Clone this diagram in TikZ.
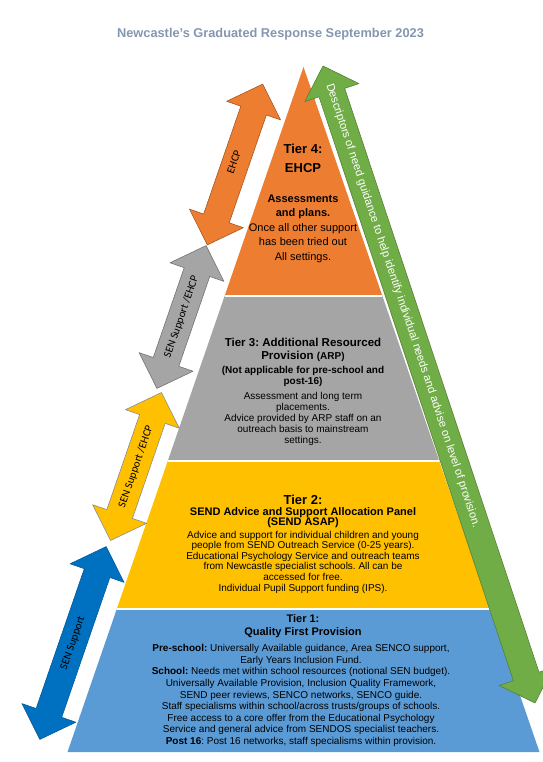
\documentclass[tikz,border=0pt]{standalone}
\usepackage{fontspec}
\setmainfont{Liberation Sans}
\newfontfamily\arrowfont{Carlito}
\usetikzlibrary{calc}
\frenchspacing

\definecolor{tierorange}{HTML}{ED7D31}
\definecolor{tiergray}{HTML}{A5A5A5}
\definecolor{tieryellow}{HTML}{FFC000}
\definecolor{tierblue}{HTML}{5B9BD5}
\definecolor{arrowblue}{HTML}{0070C0}
\definecolor{arrowgreen}{HTML}{70AD47}
\definecolor{titlegray}{HTML}{8497B0}

\tikzset{
  tiertext/.style={align=center,inner sep=0pt,font=\fontsize{10}{11}\selectfont},
  arrowlabel/.style={inner sep=0pt,rotate=71,font=\arrowfont\fontsize{11}{13}\selectfont},
}

% double headed block arrow: #1 one tip, #2 other tip, #3 style
\newcommand{\dblarrow}[3]{%
  \path (#1) coordinate (t) (#2) coordinate (h);
  \path ($(h)!28pt!(t)$) coordinate (hb) ($(t)!28pt!(h)$) coordinate (tb);
  \draw[#3] (h) -- ($(hb)!28.5pt!90:(h)$) -- ($(hb)!13.5pt!90:(h)$)
    -- ($(tb)!13.5pt!-90:(t)$) -- ($(tb)!28.5pt!-90:(t)$) -- (t)
    -- ($(tb)!28.5pt!90:(t)$) -- ($(tb)!13.5pt!90:(t)$)
    -- ($(hb)!13.5pt!-90:(h)$) -- ($(hb)!28.5pt!-90:(h)$) -- cycle;}

\begin{document}
\begin{tikzpicture}[x=1pt,y=-1pt,line join=round]
  \useasboundingbox (0,0) rectangle (542,762);
  \node[font=\bfseries\fontsize{12.8}{15}\selectfont,text=titlegray] (title) at (270.5,34) {Newcastle's Graduated Response September 2023};

  \coordinate (apex) at (303.5,67);
  \coordinate (bl) at (67.5,752);
  \coordinate (br) at (539.5,752);
  \coordinate (l4) at ($(apex)!0.3343!(bl)$);
  \coordinate (r4) at ($(apex)!0.3343!(br)$);
  \coordinate (l3) at ($(apex)!0.5752!(bl)$);
  \coordinate (r3) at ($(apex)!0.5752!(br)$);
  \coordinate (l2) at ($(apex)!0.7912!(bl)$);
  \coordinate (r2) at ($(apex)!0.7912!(br)$);
  \fill[tierorange] (apex)--(r4)--(l4)--cycle;
  \fill[tiergray] (l4)--(r4)--(r3)--(l3)--cycle;
  \fill[tieryellow] (l3)--(r3)--(r2)--(l2)--cycle;
  \fill[tierblue] (l2)--(r2)--(br)--(bl)--cycle;
  \draw[white,line width=2pt] (l4)--(r4) (l3)--(r3) (l2)--(r2);

  \dblarrow{39.8,739.4}{106.2,546.6}{fill=arrowblue,draw=arrowblue!80!black,line width=0.6pt}
  \dblarrow{110.5,540.5}{161.5,392.5}{fill=tieryellow,draw=black!45,line width=0.6pt}
  \dblarrow{156.9,388.4}{206.1,245.6}{fill=tiergray,draw=black!55,line width=0.6pt}
  \dblarrow{207.3,244.9}{262.7,84.1}{fill=tierorange,draw=tierorange!70!black,line width=0.6pt}
  \dblarrow{535,703}{323,66}{fill=arrowgreen,draw=arrowgreen!75!black,line width=0.6pt}

  \node[arrowlabel] (sen) at (73,643) {SEN Support};
  \node[arrowlabel] (senehcpa) at (136,466.5) {SEN Support /EHCP};
  \node[arrowlabel] (senehcpb) at (181.5,317) {SEN Support /EHCP};
  \node[arrowlabel] (ehcp) at (234,162) {EHCP};
  \node[rotate=-71.6,anchor=west,inner sep=0pt,text=white,font=\fontsize{11.2}{13}\selectfont] (descr) at ($(323,66)!19pt!(535,703)$) {Descriptors of need guidance to help identify individual needs and advise on level of provision.};

  \node[tiertext,font=\bfseries\fontsize{13}{19}\selectfont] (t4head) at (303,158.5) {Tier 4:\\EHCP};
  \node[tiertext,font=\fontsize{11}{14.5}\selectfont] (t4body) at (303,228.5) {\textbf{Assessments}\\\textbf{and plans.}\\Once all other support\\has been tried out\\All settings.};

  \node[tiertext,font=\bfseries\fontsize{11.5}{13}\selectfont] (t3head) at (303,349.5) {Tier 3: Additional Resourced\\Provision {\fontsize{10}{13}\selectfont(ARP)}};
  \node[tiertext,font=\bfseries\fontsize{10}{11}\selectfont] (t3note) at (303,376.5) {(Not applicable for pre-school and\\post-16)};
  \node[tiertext] (t3body) at (303,419) {Assessment and long term\\placements.\\Advice provided by ARP staff on an\\outreach basis to mainstream\\settings.};

  \node[tiertext,font=\bfseries\fontsize{13}{15}\selectfont] (t2head) at (303,500) {Tier 2:};
  \node[tiertext,font=\bfseries\fontsize{11}{10.5}\selectfont] (t2panel) at (303,517.5) {SEND Advice and Support Allocation Panel\\(SEND ASAP)};
  \node[tiertext,font=\fontsize{10}{10.6}\selectfont] (t2body) at (303,562) {Advice and support for individual children and young\\people from SEND Outreach Service (0-25 years).\\Educational Psychology Service and outreach teams\\from Newcastle specialist schools. All can be\\accessed for free.\\Individual Pupil Support funding (IPS).};

  \node[tiertext,font=\bfseries\fontsize{11}{13}\selectfont] (t1head) at (303,626) {Tier 1:\\Quality First Provision};
  \node[tiertext,font=\fontsize{10}{11.6}\selectfont] (t1body) at (301,695.5) {\textbf{Pre-school:} Universally Available guidance, Area SENCO support,\\Early Years Inclusion Fund.\\\textbf{School:} Needs met within school resources (notional SEN budget).\\Universally Available Provision, Inclusion Quality Framework,\\SEND peer reviews, SENCO networks, SENCO guide.\\Staff specialisms within school/across trusts/groups of schools.\\Free access to a core offer from the Educational Psychology\\Service and general advice from SENDOS specialist teachers.\\\textbf{Post 16}: Post 16 networks, staff specialisms within provision.};
\end{tikzpicture}
\end{document}
